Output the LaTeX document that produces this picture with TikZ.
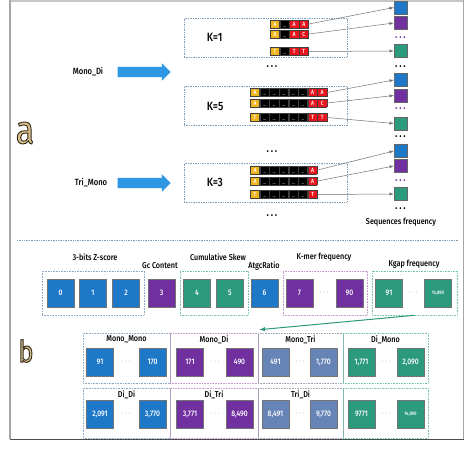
\documentclass[tikz,border=0pt]{standalone}
\usepackage{fontspec}
\setmainfont{Fira Sans}[FakeStretch=0.85]
\newfontfamily\medfont{Fira Sans Medium}[FakeStretch=0.85]
\usetikzlibrary{positioning, shapes.arrows}
\definecolor{cblue}{HTML}{1E78C8}
\definecolor{cpurple}{HTML}{7030A0}
\definecolor{cgreen}{HTML}{2C9A7C}
\definecolor{csteel}{HTML}{6684B6}
\definecolor{arrowblue}{HTML}{2E96E2}
\definecolor{seqyellow}{HTML}{F0B41E}
\definecolor{seqred}{HTML}{E8141E}
\definecolor{kline}{HTML}{7E9EBA}
\definecolor{bluegray}{HTML}{8FA8C4}
\definecolor{pinkline}{HTML}{C898C8}
\definecolor{grayline}{HTML}{9AA4B6}
\definecolor{tealline}{HTML}{78C2B2}
\definecolor{lettertan}{HTML}{D8C08A}
\setlength{\fboxsep}{0pt}
\setlength{\fboxrule}{0.5pt}
\newcommand{\seqcell}[2]{\fcolorbox{black!75}{#1}{\makebox[8.6pt]{\rule[-1.4pt]{0pt}{7.6pt}#2}}}
\newcommand{\seqA}[1]{\seqcell{seqyellow}{\textcolor{white}{#1}}}
\newcommand{\seqN}{\seqcell{black}{\textcolor{gray}{\_}}}
\newcommand{\seqR}[1]{\seqcell{seqred}{\textcolor{white}{#1}}}
\newcommand{\tripdots}{\textbullet\hspace{1.8pt}\textbullet\hspace{1.8pt}\textbullet}
\newcommand{\outlined}[1]{{\color{lettertan}\special{pdf:literal direct q 2 Tr 0.9 w 0.2 0.16 0.1 RG}#1\special{pdf:literal direct Q}}}

\begin{document}
\begin{tikzpicture}[x=1pt,y=-1pt]
	\tikzstyle{lbl}=[font=\medfont\fontsize{9}{10}\selectfont, inner sep=0pt]
\tikzstyle{klbl}=[font=\medfont\fontsize{12}{12}\selectfont, inner sep=0pt]
\tikzstyle{kbox}=[draw=kline, densely dotted, line width=0.7pt, minimum width=163, minimum height=39, inner sep=0pt]
\tikzstyle{fatarrow}=[single arrow, fill=arrowblue, minimum height=53, inner xsep=0pt, inner ysep=5pt, single arrow head extend=3.5pt, single arrow tip angle=90]
\tikzstyle{row}=[inner sep=0pt, anchor=west, font=\medfont\fontsize{6}{6}\selectfont]
\tikzstyle{fsq}=[draw=black!60, minimum size=13, inner sep=0pt]
\tikzstyle{connect}=[-latex, black!55, line width=0.5pt]
\tikzstyle{adots}=[font=\fontsize{8.5}{8.5}\selectfont, inner sep=0pt]
\tikzstyle{bigletter}=[inner sep=0pt]
\tikzstyle{glbl}=[font=\medfont\fontsize{8.5}{9}\selectfont, inner sep=0pt]
\tikzstyle{gbox}=[densely dotted, line width=0.6pt, minimum height=44, inner sep=0pt]
\tikzstyle{pbox}=[densely dotted, line width=0.6pt, minimum height=50, inner sep=0pt]
\tikzstyle{num}=[draw=black!55, minimum width=27, minimum height=28, inner sep=0pt, text=white, font=\medfont\fontsize{8}{8}\selectfont]
\tikzstyle{bdots}=[text=gray, font=\fontsize{8}{8}\selectfont, inner sep=0pt]
\useasboundingbox (0,0) rectangle (474,451);
\fill[white] (0,0) rectangle (474,451);
\draw[gray!45, line width=2.5pt] (10,1.2) -- (464,1.2);
\draw[gray!70, line width=1.6pt] (10,0) -- (10,439);
\draw[gray!70, line width=1.6pt] (463.5,0) -- (463.5,439);
\draw[black!70, line width=0.8pt] (10,439) -- (464,439);
\node[lbl] (monodi) at (88,72) {Mono\_Di};
\node[fatarrow] (arrow1) at (141.5,72) {};
\node[lbl] (trimono) at (91,183) {Tri\_Mono};
\node[fatarrow] (arrow2) at (141.5,183) {};
\node[kbox] (k1) at (265.5,37.5) {};
\node[klbl, right=23pt of k1.west] (k1t) {K=1};
\node[kbox] (k5) at (265.5,106) {};
\node[klbl, right=23pt of k5.west] (k5t) {K=5};
\node[kbox] (k3) at (265.5,182.5) {};
\node[klbl, right=23pt of k3.west] (k3t) {K=3};
\node[row] (r11) at (270,24) {\seqA{A}\seqN\seqR{A}\seqR{A}};
\node[row] (r12) at (270,34) {\seqA{A}\seqN\seqR{A}\seqR{C}};
\node[row] (r13) at (270,51.5) {\seqA{T}\seqN\seqR{T}\seqR{T}};
\node[row] (r51) at (250,92.5) {\seqA{A}\seqN\seqN\seqN\seqN\seqN\seqR{A}\seqR{A}};
\node[row] (r52) at (250,103) {\seqA{A}\seqN\seqN\seqN\seqN\seqN\seqR{A}\seqR{C}};
\node[row] (r53) at (250,117.5) {\seqA{T}\seqN\seqN\seqN\seqN\seqN\seqR{T}\seqR{T}};
\node[row] (r31) at (250,170) {\seqA{A}\seqN\seqN\seqN\seqN\seqN\seqR{A}};
\node[row] (r32) at (250,181) {\seqA{A}\seqN\seqN\seqN\seqN\seqN\seqR{A}};
\node[row] (r33) at (250,194.5) {\seqA{T}\seqN\seqN\seqN\seqN\seqN\seqR{T}};
\node[adots] (gap1) at (272,68) {\tripdots};
\node[adots] (gap2) at (272,153) {\tripdots};
\node[adots] (gap3) at (272,216.5) {\tripdots};
\node[fsq, fill=cblue] (s11) at (400.5,7.5) {};
\node[fsq, fill=cpurple] (s12) at (400.5,23) {};
\node[adots, text=cpurple] (pd1) at (400.5,38.5) {\tripdots};
\node[fsq, fill=cgreen] (s13) at (400.5,51) {};
\node[adots] (bd1) at (400.5,67.5) {\tripdots};
\node[fsq, fill=cblue] (s51) at (400.5,80) {};
\node[fsq, fill=cpurple] (s52) at (400.5,95.5) {};
\node[adots, text=cpurple] (pd2) at (400.5,110) {\tripdots};
\node[fsq, fill=cgreen] (s53) at (400.5,123.5) {};
\node[adots] (bd2) at (400.5,137.5) {\tripdots};
\node[fsq, fill=cblue] (s31) at (400.5,151) {};
\node[fsq, fill=cpurple] (s32) at (400.5,166) {};
\node[adots, text=cpurple] (pd3) at (400.5,182) {\tripdots};
\node[fsq, fill=cgreen] (s33) at (400.5,194) {};
\node[adots] (bd3) at (400.5,209.5) {\tripdots};
\node[lbl, font=\medfont\fontsize{8.5}{9}\selectfont] (seqfreq) at (401,222.5) {Sequences frequency};
\path (r11.east) edge [connect] (s11.west)
      (r12.east) edge [connect] (s12.west)
      (r13.east) edge [connect] (s13.west)
      (r51.east) edge [connect] (s51.west)
      (r52.east) edge [connect] (s52.west)
      (r53.east) edge [connect] (s53.west)
		  (r31.east) edge [connect] (s31.west)
		  (r32.east) edge [connect] (s32.west)
		  (r33.east) edge [connect] (s33.west);
\draw[kline, densely dotted, line width=0.7pt] (17,240) -- (458,240);
\node[glbl] (zlbl) at (95,257) {3-bits Z-score};
\node[glbl] (gclbl) at (160,266) {Gc Content};
\node[glbl] (cslbl) at (218,257) {Cumulative Skew};
\node[glbl] (atlbl) at (264,266) {AtgcRatio};
\node[glbl] (kmlbl) at (324,257) {K-mer frequency};
\node[glbl] (kglbl) at (414,264) {Kgap frequency};
\node[gbox, draw=bluegray, minimum width=102] (zbox) at (93,293) {};
\node[gbox, draw=tealline, minimum width=68] (csbox) at (214,293) {};
\node[gbox, draw=pinkline, minimum width=84] (kmbox) at (325,293) {};
\node[gbox, draw=tealline, minimum width=85] (kgbox) at (414.5,293) {};
\node[num, fill=cblue] (n0) at (60.5,293) {0};
\node[num, fill=cblue] (n1) at (93,293) {1};
\node[num, fill=cblue] (n2) at (126,293) {2};
\node[num, fill=cpurple] (n3) at (161.5,293) {3};
\node[num, fill=cgreen] (n4) at (197,293) {4};
\node[num, fill=cgreen] (n5) at (230,293) {5};
\node[num, fill=cblue] (n6) at (264.5,293) {6};
\node[num, fill=cpurple] (n7) at (299.5,293) {7};
\node[bdots] (kmdots) at (324,293) {$\cdots$};
\node[num, fill=cpurple] (n90) at (349.5,293) {90};
\node[num, fill=cgreen] (n91) at (389,293) {91};
\node[bdots] (kgdots) at (413,293) {$\cdots$};
\node[num, fill=cgreen, font=\medfont\fontsize{5}{5}\selectfont] (nlast) at (438,293) {14,890};
\node[pbox, draw=bluegray, minimum width=87] (mmbox) at (126.5,358) {};
\node[pbox, draw=pinkline, minimum width=88] (mdbox) at (214,358) {};
\node[pbox, draw=grayline, minimum width=85] (mtbox) at (300.5,358) {};
\node[pbox, draw=tealline, minimum width=85] (dmbox) at (385.5,358) {};
\node[pbox, draw=bluegray, minimum width=87] (ddbox) at (126.5,413) {};
\node[pbox, draw=pinkline, minimum width=88] (dtbox) at (214,413) {};
\node[pbox, draw=grayline, minimum width=85] (tdbox) at (300.5,413) {};
\node[pbox, draw=tealline, minimum width=85] (restbox) at (385.5,413) {};
\node[glbl, below=3pt of mmbox.north] (mmlbl) {Mono\_Mono};
\node[glbl, below=3pt of mdbox.north] (mdlbl) {Mono\_Di};
\node[glbl, below=3pt of mtbox.north] (mtlbl) {Mono\_Tri};
\node[glbl, below=3pt of dmbox.north] (dmlbl) {Di\_Mono};
\node[glbl, below=3pt of ddbox.north] (ddlbl) {Di\_Di};
\node[glbl, below=3pt of dtbox.north] (dtlbl) {Di\_Tri};
\node[glbl, below=3pt of tdbox.north] (tdlbl) {Tri\_Di};
\node[num, fill=cblue] (m91) at (100,362) {91};
\node[bdots] (mmdots) at (126,362) {$\cdots$};
\node[num, fill=cblue] (m170) at (152.5,362) {170};
\node[num, fill=cpurple] (m171) at (190,362) {171};
\node[bdots] (mddots) at (215,362) {$\cdots$};
\node[num, fill=cpurple] (m490) at (239.5,362) {490};
\node[num, fill=csteel] (m491) at (275.5,362) {491};
\node[bdots] (mtdots) at (300,362) {$\cdots$};
\node[num, fill=csteel] (m1770) at (323.5,362) {1,770};
\node[num, fill=cgreen] (m1771) at (361.5,362) {1,771};
\node[bdots] (dmdots) at (386.5,362) {$\cdots$};
\node[num, fill=cgreen] (m2090) at (410.5,362) {2,090};
\node[num, fill=cblue] (m2091) at (100,414) {2,091};
\node[bdots] (dddots) at (126,414) {$\cdots$};
\node[num, fill=cblue] (m3770) at (152.5,414) {3,770};
\node[num, fill=cpurple] (m3771) at (190,414) {3,771};
\node[bdots] (dtdots) at (215,414) {$\cdots$};
\node[num, fill=cpurple] (m8490) at (239.5,414) {8,490};
\node[num, fill=csteel] (m8491) at (275.5,414) {8,491};
\node[bdots] (tddots) at (300,414) {$\cdots$};
\node[num, fill=csteel] (m9770) at (323.5,414) {9,770};
\node[num, fill=cgreen] (m9771) at (361.5,414) {9771};
\node[bdots] (restdots) at (386.5,414) {$\cdots$};
\node[num, fill=cgreen, font=\medfont\fontsize{5}{5}\selectfont] (m14890) at (410.5,414) {14,890};
\draw[-latex, cgreen, line width=1pt] (kgbox.south) -- ([shift={(1,-3)}]mdbox.north east);
\node[bigletter] (leta) at (25,133) {\fontsize{40}{40}\selectfont\outlined{a}};
\node[bigletter] (letb) at (26,351) {\fontsize{30}{30}\selectfont\outlined{b}};
\end{tikzpicture}
\end{document}
